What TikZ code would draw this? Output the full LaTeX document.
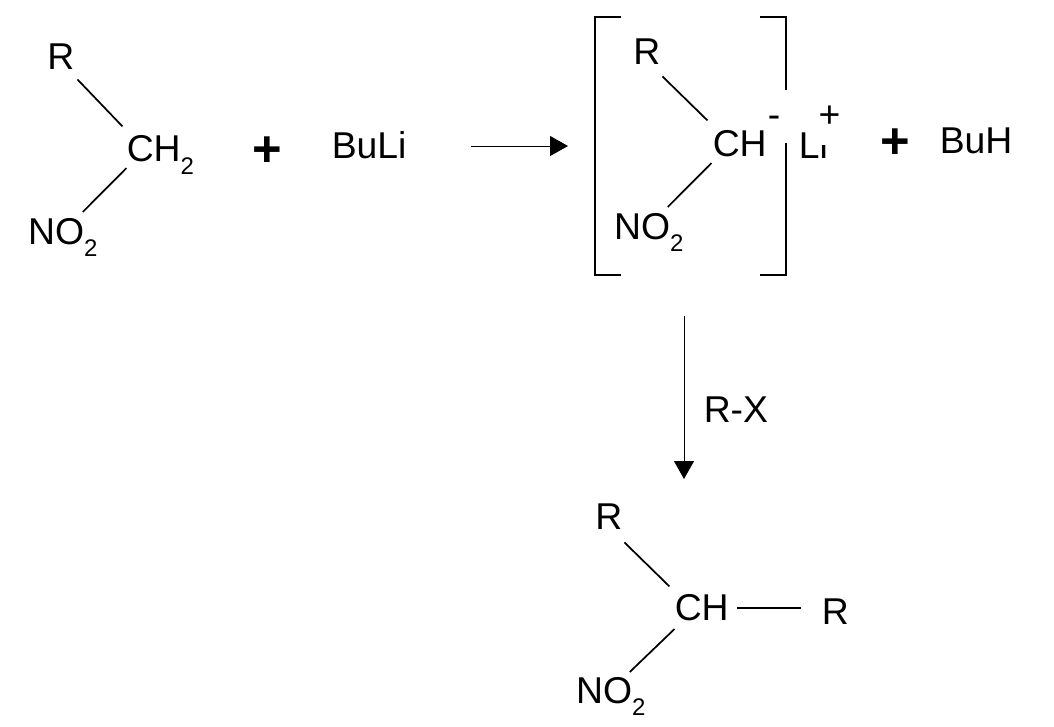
\documentclass[tikz,border=0pt]{standalone}
\usepackage{fontspec}
\setmainfont{Liberation Sans}
\usetikzlibrary{arrows.meta}
\usetikzlibrary{positioning}
\newcommand{\subtwo}{\raisebox{-9.5pt}{\fontsize{18}{18}\selectfont 2}}
\begin{document}
\begin{tikzpicture}[
	x=0.75pt, y=-0.75pt,
	chem/.style={inner sep=0pt, text height=19.5pt, text depth=0pt, font=\fontsize{28}{30}\selectfont},
	charge/.style={inner sep=0pt, font=\fontsize{28}{30}\selectfont},
	plus/.style={inner sep=0pt, font=\fontsize{38}{38}\selectfont\bfseries},
	bond/.style={line width=1.3pt},
	arrow/.style={line width=0.75pt, -{Triangle[length=13.5pt, width=15pt]}},
]
	\useasboundingbox (0,0) rectangle (1054,726);

	% starting material
	\node[chem, anchor=south west] (ch1) at (126.5,162) {CH\subtwo};
	\node[chem, above left=49.5pt and 39pt of ch1] (r1) {R};
	\node[chem, below left=42pt and 21.55pt of ch1] (no1) {NO\subtwo};
	\node[plus] (plus1) at (267.5,152) {+};
	\node[chem, anchor=south west] (buli) at (331.5,159) {BuLi};

	% anion
	\node[chem, anchor=south west] (ch2) at (712.5,157) {CH};
	\node[chem, above left=49.5pt and 39pt of ch2] (r2) {R};
	\node[chem, below left=42pt and 21.55pt of ch2] (no2) {NO\subtwo};
	\node[charge] (minus) at (774,122) {-};
	\node[chem, anchor=south west] (li) at (798.5,159) {Li};
	\node[fill=white, inner sep=0pt, minimum width=10.5pt, minimum height=12pt] (limask) at (819,136.5) {};
	\node[charge] (plus2) at (829.5,117) {+};
	\node[plus] (plus3) at (895.5,144) {+};
	\node[chem, anchor=south west] (buh) at (939.5,154) {BuH};

	% brackets
	\draw[bond] (621,17) -| (595,275) -- (621,275);
	\draw[bond] (760,17) -| (786,90);
	\draw[bond] (786,143) |- (760,275);

	% product
	\node[chem, anchor=south west] (ch3) at (674.5,621) {CH};
	\node[chem, above left=48.75pt and 39pt of ch3] (r3) {R};
	\node[chem, below left=42pt and 21.55pt of ch3] (no3) {NO\subtwo};
	\node[chem, anchor=south west] (r4) at (821.5,625) {R};

	\coordinate (start1) at (471,146);
	\coordinate (end1) at (568,146);
	\coordinate (start2) at (684,316);
	\coordinate (end2) at (684,479);
	\node[chem, anchor=south west] (rx) at (703.5,423) {R-X};

	\draw[arrow] (start1) -- (end1);
	\draw[arrow] (start2) -- (end2);

	\draw[bond] ([shift={(3,10)}]r1.south east) -- ([shift={(-4,-9)}]ch1.north west);
	\draw[bond] ([shift={(0,6)}]ch1.south west) -- ([shift={(-15,-6)}]no1.north east);

	\draw[bond] ([shift={(2,12)}]r2.south east) -- ([shift={(-5,-10)}]ch2.north west);
	\draw[bond] ([shift={(-1,6)}]ch2.south west) -- ([shift={(-16,-6)}]no2.north east);

	\draw[bond] ([shift={(2,13)}]r3.south east) -- ([shift={(-5,-8)}]ch3.north west);
	\draw[bond] ([shift={(0,8)}]ch3.south west) -- ([shift={(-16,-5)}]no3.north east);
	\draw[bond] ([xshift=6pt]ch3.east) -- ([shift={(-21,-4)}]r4.west);
\end{tikzpicture}
\end{document}
